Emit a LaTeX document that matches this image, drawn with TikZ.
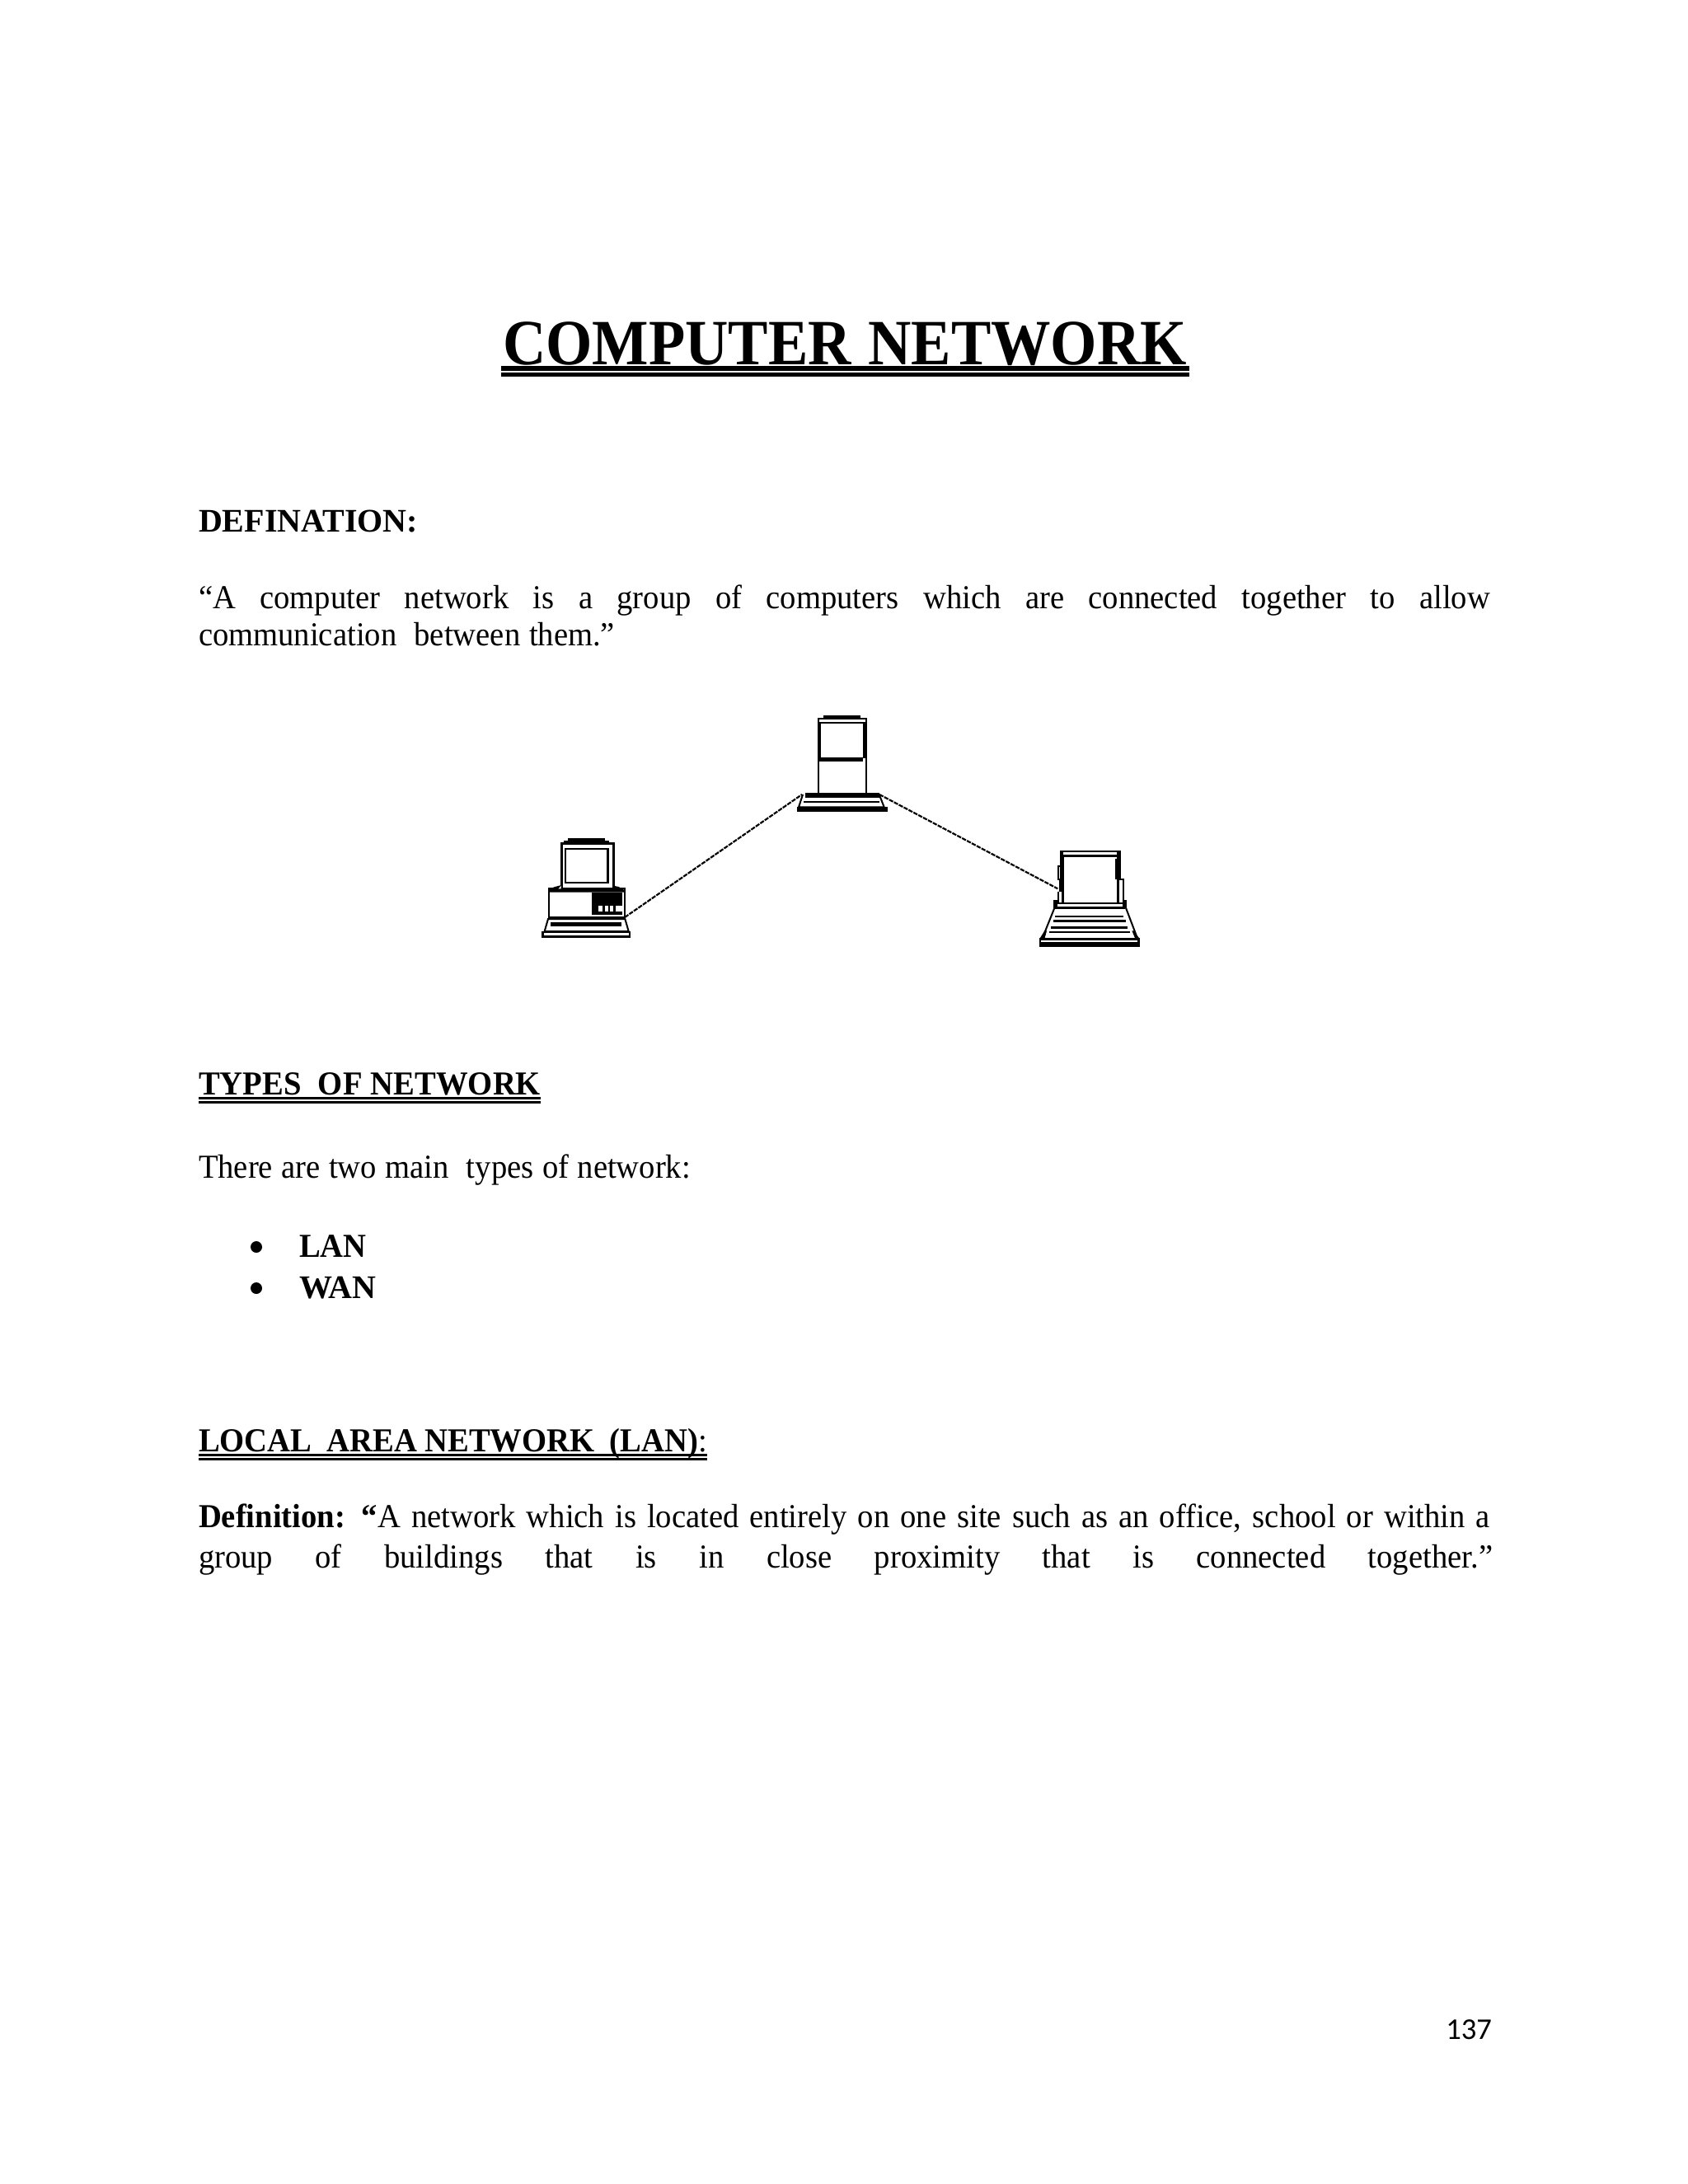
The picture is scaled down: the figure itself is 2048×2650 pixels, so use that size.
\documentclass[tikz,border=0pt]{standalone}
\usepackage{fontspec}
\setmainfont[FakeStretch=0.95]{Liberation Serif}
\newfontfamily\titlefont[FakeStretch=0.925]{Liberation Serif}
\newfontfamily\widefont{Liberation Serif}
\newfontfamily\pagefont{Carlito}
\newcommand{\pxbox}[2]{\makebox[\dimexpr #1pt*3/10\relax][s]{#2}}
\tikzset{
  txt/.style={inner sep=0pt,outer sep=0pt,anchor=base west,font=\fontsize{12.2}{14}\selectfont},
  txtb/.style={txt,font=\fontsize{12.2}{14}\selectfont\bfseries},
  txtw/.style={txt,font=\fontsize{12}{14}\selectfont\widefont\bfseries},
  ttl/.style={txt,font=\fontsize{23.5}{28}\selectfont\titlefont\bfseries},
  ln/.style={draw=black,line width=0.75pt,fill=white,line join=miter},
  thin ln/.style={draw=black,line width=0.6pt,fill=white},
  wire/.style={draw=black,line width=0.65pt,dash pattern=on 1.6pt off 0.4pt},
  anch/.style={inner sep=0pt,outer sep=0pt,draw=none,rectangle},
  bul/.style={circle,fill=black,inner sep=0pt,minimum size=4.2pt}
}
\begin{document}
\begin{tikzpicture}[x=0.3pt,y=-0.3pt]
\useasboundingbox (0,0) rectangle (2048,2650);
\fill[white] (0,0) rectangle (2048,2650);

% texts
\node[ttl] (title) at (610,442) {\pxbox{830}{COMPUTER NETWORK}};
\fill (608,444) rectangle (1443,450);
\fill (608,452) rectangle (1443,457);
\node[txtw] (defh) at (241,645) {DEFINATION:};
\node[txt] (d1) at (241,738) {\pxbox{1567}{“A computer network is a group of computers which are connected together to allow}};
\node[txt] (d2) at (241,783) {\pxbox{505}{communication\ \ between them.”}};
\node[txtb] (types) at (241,1328) {\pxbox{415}{TYPES\ \ OF NETWORK}};
\fill (241,1331) rectangle (656,1334);
\fill (241,1336) rectangle (656,1339);
\node[txt] (there) at (241,1429) {\pxbox{597}{There are two main\ \ types of network:}};
\node[bul] (b1) at (311,1513) {};
\node[txtb] (lan) at (363,1525) {LAN};
\node[bul] (b2) at (311,1563) {};
\node[txtw] (wan) at (363,1575) {WAN};
\node[txtb] (lanh) at (241,1761) {\pxbox{617}{LOCAL\ \ AREA NETWORK\ \ (LAN)\mdseries:}};
\fill (241,1763.5) rectangle (858,1767);
\fill (241,1768.5) rectangle (858,1772);
\node[txt] (l1) at (241,1853) {\pxbox{1567}{\textbf{Definition: “}A network which is located entirely on one site such as an office, school or within a}};
\node[txt] (l2) at (241,1902) {\pxbox{1570}{group of buildings that is in close proximity that is connected together.”}};
\node[inner sep=0pt,outer sep=0pt,anchor=base east,font=\fontsize{11}{13}\selectfont\pagefont] (pg) at (1810,2474) {137};

% left computer
\begin{scope}[shift={(620,840)},x=0.1pt,y=-0.1pt]
  \draw[thin ln] (210,535) rectangle (340,541);
  \draw[thin ln] (195,543) rectangle (355,552);
  \draw[ln] (184,551) rectangle (373,716);
  \draw[ln] (198,570) rectangle (353,693);
\end{scope}
\node[anch,draw=black,line width=0.65pt,fill=white,minimum width=27.6pt,minimum height=10.5pt] (pcA) at (712,1095.5) {};
\begin{scope}[shift={(620,840)},x=0.1pt,y=-0.1pt]
  \fill[black] (138,716) -- (183,716) -- (183,702) -- (160,708) -- cycle;
  \fill[white] (172,716) -- (182,716) -- (182,704) -- cycle;
  \fill[black] (373,704) -- (392,708) -- (416,722) -- (416,728) -- (138,728) -- (138,716) -- (373,716) -- cycle;
  \fill[black] (295,728) rectangle (406,810);
  \fill[white] (318,776) rectangle (404,798);
  \foreach \xx in {333,353,373}{\fill[black] (\xx,776) rectangle (\xx+8,798);}
  \draw[thin ln] (135,825) -- (122,870) -- (428,870) -- (415,825) -- cycle;
  \fill[black] (145,838) rectangle (402,852);
  \draw[line width=0.85pt,fill=white] (116,873) rectangle (432,889);
\end{scope}

% middle computer
\begin{scope}[shift={(620,840)},x=0.1pt,y=-0.1pt]
  \fill[black] (1137,84) rectangle (1272,97);
  \draw[thin ln] (1118,95) rectangle (1292,368);
  \draw[line width=1.2pt] (1121,108) -- (1121,240);
  \draw[line width=1.2pt] (1288,108) -- (1288,240);
  \fill[black] (1116,92) rectangle (1294,100);
  \fill[black] (1116,107) rectangle (1294,114);
  \fill[black] (1120,238) rectangle (1282,253);
\end{scope}
\node[anch,minimum width=28.2pt,minimum height=6.3pt] (pcB) at (1020,974.5) {};
\begin{scope}[shift={(620,840)},x=0.1pt,y=-0.1pt]
  \fill[black] (1070,365) rectangle (1340,385);
  \draw[thin ln] (1062,372) -- (1047,418) -- (1358,418) -- (1340,372);
  \fill[black] (1070,365) rectangle (1340,385);
  \fill[black] (1065,396) rectangle (1342,402);
  \fill[black] (1040,417) rectangle (1370,435);
\end{scope}

% laptop
\begin{scope}[shift={(920,840)},x=0.1pt,y=-0.1pt]
  \fill[black] (1097,575) rectangle (1320,582);
  \fill[black] (1097,590) rectangle (1320,598);
  \fill[black] (1097,575) rectangle (1110,635);
  \fill[black] (1306,575) rectangle (1320,605);
  \draw[line width=0.75pt,fill=white] (1109,597) rectangle (1310,768);
  \draw[line width=0.6pt] (1092,632) rectangle (1101,680);
  \draw[line width=0.6pt] (1303,605) -- (1303,680);
  \draw[line width=0.6pt] (1318,605) -- (1318,680) -- (1328,680) -- (1328,770);
  \fill[black] (1096,680) rectangle (1104,725);
  \draw[line width=0.6pt] (1092,725) -- (1092,770);
  \fill[black] (1075,755) rectangle (1090,785);
  \fill[black] (1325,755) rectangle (1340,785);
  \fill[black] (1085,765) rectangle (1330,772);
  \fill[black] (1080,780) rectangle (1336,788);
  \draw[line width=0.6pt] (1078,785) -- (1038,885);
  \draw[line width=0.6pt] (1338,785) -- (1376,885);
  \fill[black] (1042,868) -- (1024,897) -- (1042,897) -- (1050,868) -- cycle;
  \fill[black] (1366,868) -- (1388,897) -- (1372,897) -- (1360,868) -- cycle;
  \fill[black] (1081,812) rectangle (1330,819);
  \fill[black] (1075,829) rectangle (1337,836);
  \fill[black] (1065,853) rectangle (1345,860);
  \fill[black] (1058,870) rectangle (1352,877);
  \fill[black] (1022,895) rectangle (1389,926);
  \fill[white] (1030,903) rectangle (1381,909);
\end{scope}
\node[anch,minimum width=24pt,minimum height=13pt] (lap) at (1323.3,1078.3) {};

% connectors
\draw[wire] (pcA.south east) -- (pcB.north west);
\draw[wire] (pcB.north east) -- (lap.west);
\end{tikzpicture}
\end{document}
